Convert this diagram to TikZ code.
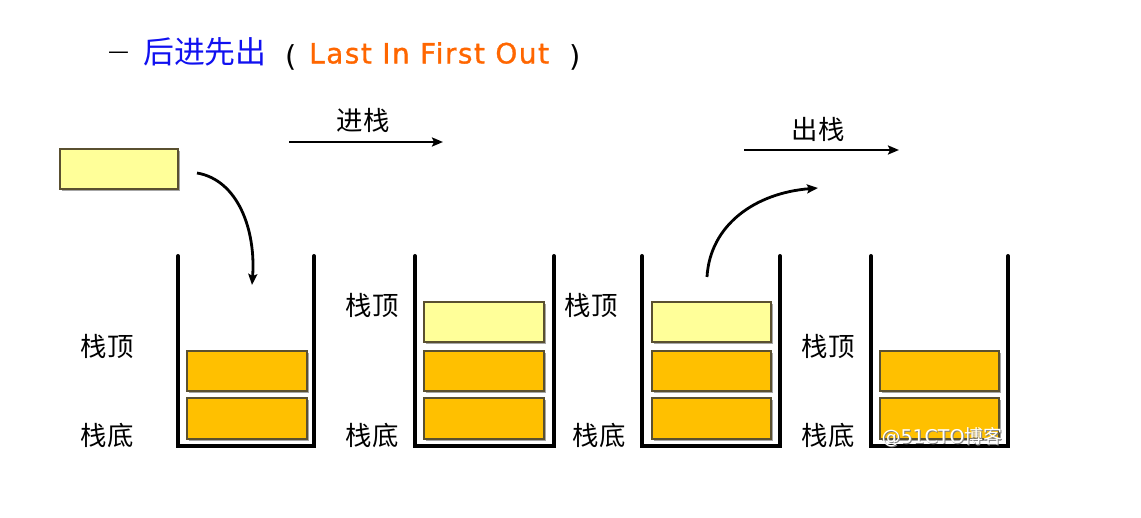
\documentclass[tikz,border=0pt]{standalone}
\usepackage{fontspec}
\setmainfont{DejaVu Sans}
\newfontfamily\cjk{Noto Sans CJK SC}
\newfontfamily\ttlfont[LetterSpace=5.5,FakeBold=1.2]{DejaVu Sans}
\usetikzlibrary{arrows.meta}
\definecolor{boxor}{HTML}{FFC000}
\definecolor{boxly}{HTML}{FFFF99}
\definecolor{boxbd}{HTML}{5A5030}
\definecolor{ttlblue}{HTML}{1010F0}
\definecolor{ttlor}{HTML}{FF6600}
\tikzset{
  x=1bp,y=-1bp,
  wall/.style={line width=4bp,line cap=round,line join=miter,black},
  orbox/.style={draw=boxbd,line width=1.2bp,fill=boxor},
  lybox/.style={draw=boxbd,line width=1.2bp,fill=boxly},
  shd/.style={fill=black!35,draw=none},
  lbl/.style={font=\cjk\fontsize{26.5}{28}\selectfont,inner sep=0pt},
  arr/.style={line width=2.8bp,-{Stealth[length=11bp,width=9bp,inset=2bp]}},
}
\begin{document}
\begin{tikzpicture}
\useasboundingbox (0,0) rectangle (1141,518);
% title
\node[anchor=west,inner sep=0pt,font=\fontsize{21}{24}\selectfont] (dash) at (108,55) {—};
\node[anchor=west,inner sep=0pt,font=\cjk\fontsize{31}{32}\selectfont,text=ttlblue] (t1) at (143,52) {后进先出};
\node[anchor=west,inner sep=0pt,font=\fontsize{29}{30}\selectfont] (p1) at (285,57) {(};
\node[anchor=west,inner sep=0pt,font=\ttlfont\fontsize{28}{28}\selectfont,text=ttlor] (t2) at (309,53) {Last In First Out};
\node[anchor=west,inner sep=0pt,font=\fontsize{29}{30}\selectfont] (p2) at (569,57) {)};

% single box
\fill[shd] (62,151) rectangle (180,191);
\draw[lybox] (60,149) rectangle (178,189);
\coordinate (c1s) at (197,173);
\coordinate (c1e) at (252,285);
\draw[arr] (c1s) .. controls (238,180) and (256,230) .. (c1e);

% push label/arrow
\node[lbl] (push) at (363,120) {进栈};
\coordinate (pa) at (289,142);
\coordinate (pb) at (443,142);
\draw[arr] (pa) -- (pb);

% pop label/arrow
\node[lbl] (pop) at (818,129) {出栈};
\coordinate (qa) at (744,150);
\coordinate (qb) at (899,150);
\draw[arr] (qa) -- (qb);

\coordinate (c2s) at (707,277);
\coordinate (c2e) at (818,188);
\draw[arr] (c2s) .. controls (710,225) and (755,193) .. (c2e);

% stack 1
\draw[wall] (178,256) -- (178,446) -- (314,446) -- (314,256);
\fill[shd] (189,353) rectangle (309,393);
\draw[orbox] (187,351) rectangle (307,391);
\fill[shd] (189,400) rectangle (309,441);
\draw[orbox] (187,398) rectangle (307,439);
\node[lbl] (s1t) at (107,346) {栈顶};
\node[lbl] (s1b) at (107,435) {栈底};

% stack 2
\draw[wall] (415,256) -- (415,446) -- (554,446) -- (554,256);
\fill[shd] (426,304) rectangle (546,344);
\draw[lybox] (424,302) rectangle (544,342);
\fill[shd] (426,353) rectangle (546,393);
\draw[orbox] (424,351) rectangle (544,391);
\fill[shd] (426,400) rectangle (546,441);
\draw[orbox] (424,398) rectangle (544,439);
\node[lbl] (s2t) at (372,305) {栈顶};
\node[lbl] (s2b) at (372,435) {栈底};

% stack 3
\draw[wall] (642,256) -- (642,446) -- (780,446) -- (780,256);
\fill[shd] (654,304) rectangle (773,344);
\draw[lybox] (652,302) rectangle (771,342);
\fill[shd] (654,353) rectangle (773,393);
\draw[orbox] (652,351) rectangle (771,391);
\fill[shd] (654,400) rectangle (773,441);
\draw[orbox] (652,398) rectangle (771,439);
\node[lbl] (s3t) at (591,305) {栈顶};
\node[lbl] (s3b) at (599,435) {栈底};

% stack 4
\draw[wall] (871,256) -- (871,446) -- (1008,446) -- (1008,256);
\fill[shd] (882,353) rectangle (1001,393);
\draw[orbox] (880,351) rectangle (999,391);
\fill[shd] (882,400) rectangle (1001,441);
\draw[orbox] (880,398) rectangle (999,439);
\node[lbl] (s4t) at (828,346) {栈顶};
\node[lbl] (s4b) at (828,435) {栈底};

% watermark
\node[inner sep=0pt,font=\fontsize{19}{20}\selectfont,text=gray] at (943,438) {@51CTO\cjk 博客};
\node[inner sep=0pt,font=\fontsize{19}{20}\selectfont,text=white] (wm) at (942,437) {@51CTO\cjk 博客};
\end{tikzpicture}
\end{document}
